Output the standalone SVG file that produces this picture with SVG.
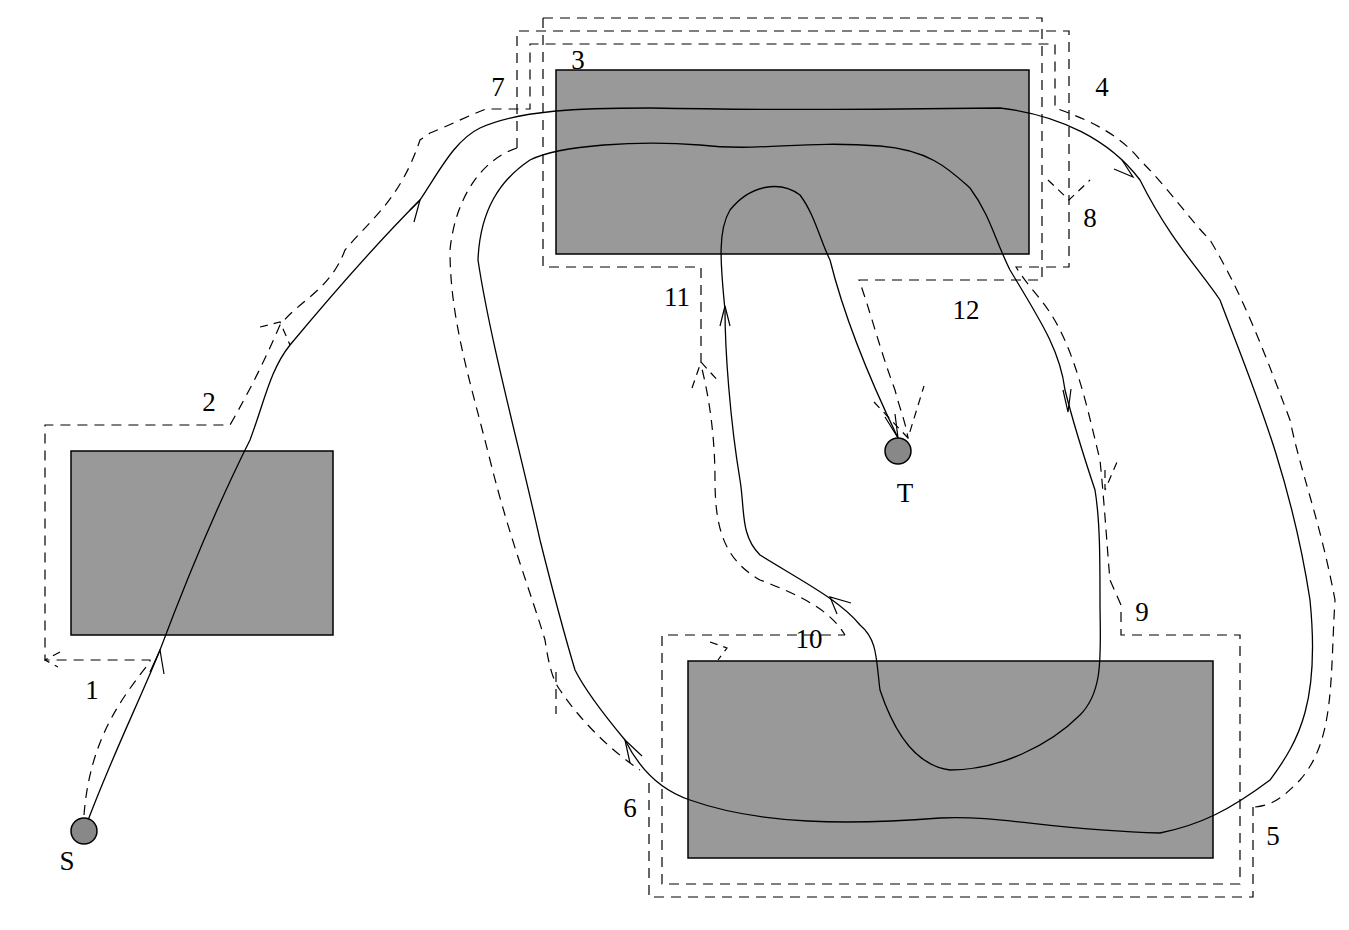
<svg xmlns="http://www.w3.org/2000/svg" width="1349" height="930" viewBox="0 0 1349 930">
<style>
.ob{fill:#999;stroke:#000;stroke-width:1.5}
.pt{fill:#888;stroke:#000;stroke-width:1.5}
.s{fill:none;stroke:#000;stroke-width:1.3;stroke-linejoin:round}
.d{fill:none;stroke:#000;stroke-width:1.2;stroke-dasharray:10 7}
.a{fill:none;stroke:#000;stroke-width:1.2}
text{font-family:"Liberation Serif",serif;font-size:27px;text-anchor:middle}
</style>
<rect width="1349" height="930" fill="#fff"/>
<g id="obstacle1"><rect class="ob" x="71" y="451" width="262" height="184"/></g>
<g id="obstacle2"><rect class="ob" x="556" y="70" width="473" height="184"/></g>
<g id="obstacle3"><rect class="ob" x="688" y="661" width="525" height="197"/></g>
<g id="connectors">
<path class="s" d="M84,831 C110,760 140,700 160,650 C190,570 220,500 250,440 C265,400 270,370 290,345 C340,285 390,230 420,200 C440,170 455,140 480,128 C520,110 580,108 650,108 C750,110 850,110 1000,108 C1060,115 1110,140 1140,180 C1170,240 1200,270 1220,300 C1250,380 1290,470 1310,600 C1320,700 1300,740 1270,780 C1230,810 1200,825 1160,833 C1050,830 1000,815 940,818 C850,825 760,825 690,800 C660,790 640,770 625,740 C600,710 585,690 575,670 C560,620 550,580 540,540 C520,450 490,340 478,260 C480,210 500,180 530,160 C560,145 640,140 700,145 C760,152 800,140 880,146 C930,150 950,170 970,188 C990,215 995,240 1010,270 C1040,320 1060,350 1065,390 C1075,430 1085,460 1095,490 C1100,520 1100,560 1100,600 C1100,650 1105,690 1080,715 C1050,745 1000,770 950,770 C910,765 890,720 880,690 C876,660 878,640 860,625 C840,600 800,580 760,555 C740,535 745,510 740,480 C730,420 725,350 725,310 C720,260 718,230 730,210 C750,185 780,180 800,195 C815,215 820,240 830,260 C845,320 870,380 898,438"/>
<path class="a" d="M150,672 L160,650 L164,674 M410,210 L420,200 L414,222 M1122,160 L1133,177 L1114,169 M630,763 L625,740 L642,756 M1063,390 L1068,412 L1071,389 M837,614 L830,597 L851,603 M720,326 L725,306 L730,326 M885,417 L898,438 L895,414"/>
<path class="d" d="M84,815 C90,740 120,700 150,662 L150,660 L45,660 L45,425 L230,425 C250,390 265,360 280,325 C300,300 330,290 345,250 C370,220 400,200 420,140 L430,133 C450,125 470,115 486,109 L530,109 L530,44 L1055,44 L1055,108 C1090,120 1120,135 1140,160 C1170,190 1190,220 1210,240 C1240,290 1260,340 1290,420 C1300,470 1320,520 1335,600 C1330,680 1335,740 1300,780 C1285,795 1275,805 1255,807"/>
<path class="d" d="M517,148 L517,31 L1069,31 L1069,267 L1016,267 C1030,290 1045,300 1060,330 C1080,370 1090,420 1100,460 C1105,510 1108,560 1110,580 L1121,605 L1121,635 L1240,635 L1240,884 L662,884 L662,635 L845,635"/>
<path class="d" d="M517,148 C480,160 455,200 450,250 C450,320 470,380 490,460 C510,540 530,590 545,640 C548,660 552,680 560,690 C580,720 610,750 640,770"/>
<path class="d" d="M556,672 L556,714"/>
<path class="d" d="M649,783 L649,897 L1253,897 L1253,807"/>
<path class="d" d="M543,18 L1042,18 L1042,280 L859,280 C870,310 880,350 895,390 C900,410 905,420 908,438"/>
<path class="d" d="M543,18 L543,267 L701,267 L701,365 C710,400 715,440 715,480 C715,530 725,560 760,580 C800,595 830,610 845,635"/>
<path class="a" stroke-dasharray="8 6" d="M60,652 L45,660 L58,667 M260,327 L280,322 L290,345 M1048,180 L1069,200 L1090,180 M1105,470 L1105,490 L1117,462 M710,642 L727,648 L718,660 M692,388 L701,362 L720,383 M874,402 L908,438 L924,386"/>
</g>
<g id="S"><circle class="pt" cx="84" cy="831" r="13"/><text x="67" y="870">S</text></g>
<g id="T"><circle class="pt" cx="898" cy="451" r="13"/><text x="905" y="502">T</text></g>
<g id="labels">
<text x="92" y="699">1</text><text x="209" y="411">2</text><text x="578" y="69">3</text><text x="1102" y="96">4</text>
<text x="1273" y="845">5</text><text x="630" y="817">6</text><text x="498" y="96">7</text><text x="1090" y="227">8</text>
<text x="1142" y="621">9</text><text x="809" y="648">10</text><text x="677" y="306">11</text><text x="966" y="319">12</text>
</g>
</svg>
